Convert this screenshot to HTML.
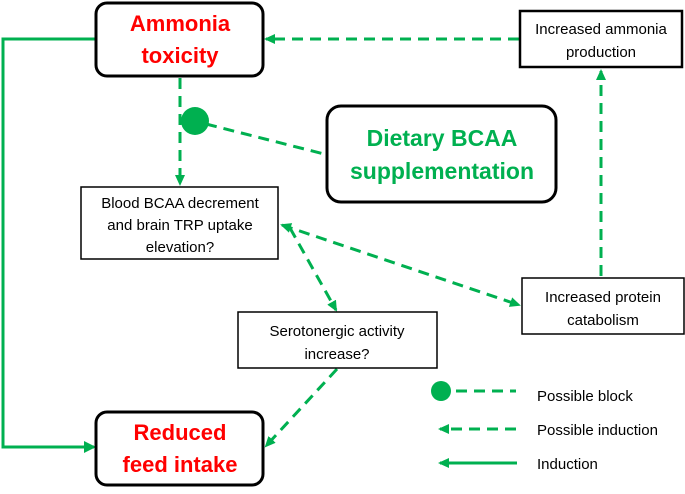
<!DOCTYPE html>
<html><head><style>
body{margin:0;width:685px;height:489px;background:#fff;overflow:hidden}
svg text{font-family:"Liberation Sans",sans-serif}
</style></head><body>
<svg width="685" height="489" viewBox="0 0 685 489" xmlns="http://www.w3.org/2000/svg">
<defs>
<marker id="a" markerWidth="12" markerHeight="12" refX="9" refY="6" orient="auto" markerUnits="userSpaceOnUse"><path d="M0,1 L11,6 L0,11 z" fill="#00b050"/></marker>
<marker id="s" markerWidth="12" markerHeight="12" refX="2" refY="6" orient="auto" markerUnits="userSpaceOnUse"><path d="M11,1 L0,6 L11,11 z" fill="#00b050"/></marker>
<marker id="b" markerWidth="14" markerHeight="14" refX="10" refY="7" orient="auto" markerUnits="userSpaceOnUse"><path d="M0,1 L12,7 L0,13 z" fill="#00b050"/></marker>
</defs>
<g stroke="#00b050" stroke-width="3" fill="none">
<polyline points="96,39 3,39 3,447 88,447"/>
<line x1="88" y1="447" x2="94" y2="447" marker-end="url(#b)"/>
<g stroke-dasharray="11,7">
<line x1="180" y1="78" x2="180" y2="184" marker-end="url(#a)"/>
<line x1="206" y1="124" x2="328" y2="155"/>
<line x1="519" y1="39" x2="266" y2="39" marker-end="url(#a)"/>
<line x1="601" y1="276" x2="601" y2="71" marker-end="url(#a)"/>
<line x1="282" y1="225" x2="519" y2="305" marker-start="url(#s)" marker-end="url(#a)"/>
<line x1="290" y1="228" x2="336" y2="310" marker-end="url(#a)"/>
<line x1="337" y1="369" x2="266" y2="446" marker-end="url(#a)"/>
<line x1="456" y1="391" x2="516" y2="391"/>
<line x1="516" y1="429" x2="440" y2="429" marker-end="url(#a)"/>
</g>
<line x1="517" y1="463" x2="440" y2="463" marker-end="url(#a)"/>
</g>
<circle cx="195" cy="121" r="14" fill="#00b050"/>
<circle cx="441" cy="391" r="10" fill="#00b050"/>
<g stroke="#000" fill="#fff">
<rect x="96" y="3" width="167" height="73" rx="11" stroke-width="3"/>
<rect x="96" y="412" width="167" height="73" rx="11" stroke-width="3"/>
<rect x="327" y="106" width="229" height="96" rx="14" stroke-width="3"/>
<rect x="520" y="11" width="162" height="56" stroke-width="2.5"/>
<rect x="81" y="187" width="197" height="72" stroke-width="1.5"/>
<rect x="522" y="278" width="162" height="56" stroke-width="1.5"/>
<rect x="238" y="312" width="199" height="56" stroke-width="1.5"/>
</g>
<g font-weight="bold" fill="#ff0000" font-size="22" text-anchor="middle">
<text x="180" y="31">Ammonia</text><text x="180" y="63">toxicity</text>
<text x="180" y="440">Reduced</text><text x="180" y="472">feed intake</text>
</g>
<g font-weight="bold" fill="#00b050" font-size="23" text-anchor="middle">
<text x="442" y="146">Dietary BCAA</text><text x="442" y="179">supplementation</text>
</g>
<g font-size="15" fill="#000" text-anchor="middle">
<text x="601" y="34">Increased ammonia</text><text x="601" y="57">production</text>
<text x="180" y="208">Blood BCAA decrement</text><text x="180" y="230">and brain TRP uptake</text><text x="180" y="252">elevation?</text>
<text x="603" y="302">Increased protein</text><text x="603" y="325">catabolism</text>
<text x="337" y="336">Serotonergic activity</text><text x="337" y="359">increase?</text>
</g>
<g font-size="15" fill="#000">
<text x="537" y="401">Possible block</text>
<text x="537" y="435">Possible induction</text>
<text x="537" y="469">Induction</text>
</g>
</svg>
</body></html>
